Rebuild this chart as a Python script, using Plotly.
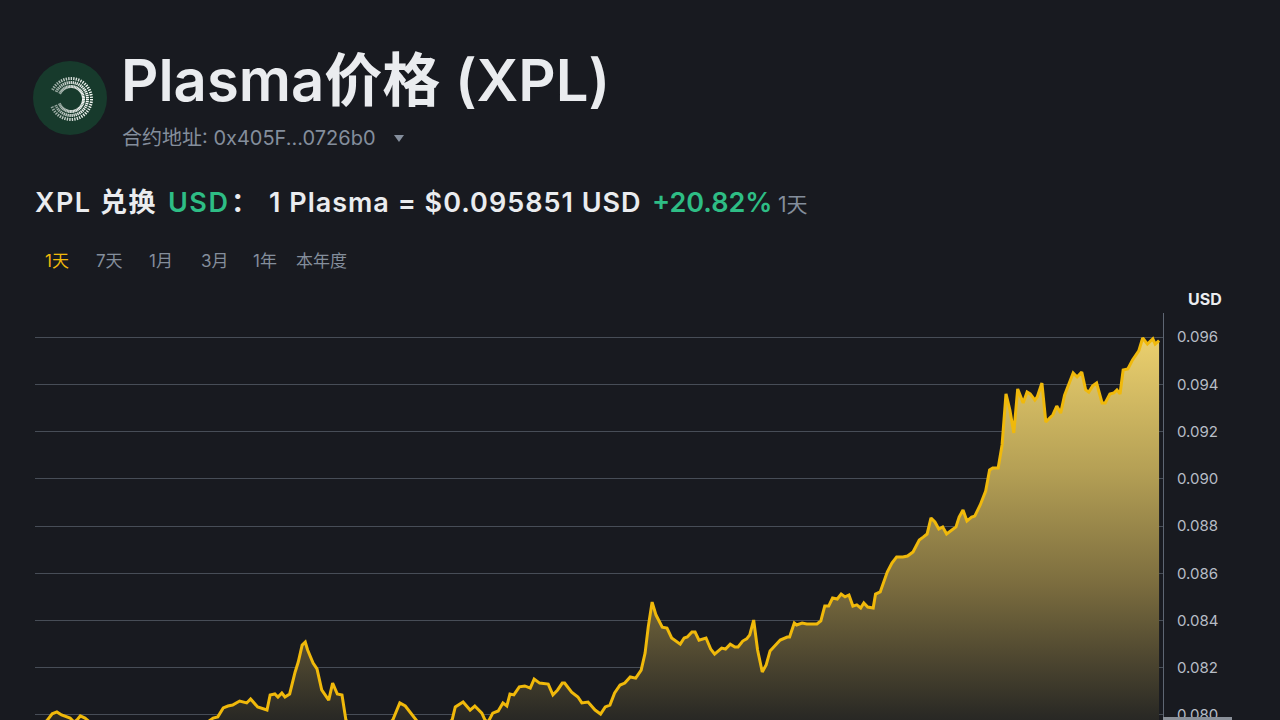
import math
import plotly.graph_objects as go

# minutes since the start of the 1-day window, and XPL price in USD
minutes = [
    0, 9, 15, 22, 28, 34, 45, 50, 54, 58, 64, 70, 83, 99, 115, 132, 147, 164, 179, 196,
    211, 221, 228, 234, 241, 247, 253, 262, 271, 276, 285, 297, 301, 307, 311, 316, 320, 326, 333, 337,
    342, 346, 349, 356, 361, 367, 376, 381, 387, 393, 398, 406, 416, 429, 442, 452, 458, 467, 474, 480,
    484, 490, 499, 509, 518, 527, 534, 538, 548, 557, 563, 572, 576, 580, 586, 593, 599, 604, 608, 613,
    620, 627, 634, 639, 646, 657, 663, 669, 675, 678, 687, 695, 700, 708, 717, 724, 730, 736, 742, 749,
    755, 762, 769, 776, 781, 785, 790, 795, 803, 809, 815, 819, 826, 831, 835, 841, 845, 850, 859, 865,
    870, 879, 884, 890, 896, 900, 906, 911, 915, 920, 925, 931, 936, 941, 947, 954, 963, 966, 972, 975,
    982, 988, 1001, 1006, 1011, 1016, 1021, 1027, 1032, 1037, 1042, 1047, 1052, 1057, 1061, 1066, 1073, 1076, 1082, 1091,
    1097, 1103, 1111, 1117, 1124, 1132, 1137, 1142, 1147, 1152, 1157, 1162, 1167, 1174, 1179, 1183, 1188, 1193, 1199, 1203,
    1210, 1217, 1222, 1226, 1233, 1238, 1243, 1248, 1253, 1258, 1265, 1270, 1274, 1280, 1283, 1289, 1294, 1299, 1303, 1308,
    1313, 1318, 1324, 1329, 1334, 1340, 1345, 1349, 1354, 1359, 1366, 1370, 1376, 1381, 1385, 1389, 1393, 1399, 1405, 1413,
    1418, 1424, 1431, 1434, 1439,
]
price = [
    0.07955, 0.07965, 0.07975, 0.08005, 0.08013, 0.08000, 0.07987, 0.07970, 0.07980, 0.07996, 0.07987, 0.07970, 0.07950, 0.07930, 0.07940, 0.07920, 0.07940, 0.07950, 0.07930, 0.07950,
    0.07960, 0.07970, 0.07987, 0.07992, 0.08030, 0.08038, 0.08042, 0.08059, 0.08051, 0.08068, 0.08034, 0.08021, 0.08085, 0.08089, 0.08076, 0.08093, 0.08076, 0.08089, 0.08182, 0.08224,
    0.08296, 0.08309, 0.08275, 0.08220, 0.08195, 0.08106, 0.08063, 0.08135, 0.08089, 0.08085, 0.07979, 0.07950, 0.07930, 0.07920, 0.07940, 0.07960, 0.07979, 0.08051, 0.08038, 0.08013,
    0.08000, 0.07970, 0.07950, 0.07940, 0.07950, 0.07960, 0.07979, 0.08034, 0.08055, 0.08021, 0.08038, 0.08008, 0.07979, 0.07970, 0.08008, 0.08017, 0.08051, 0.08038, 0.08089, 0.08085,
    0.08119, 0.08123, 0.08114, 0.08152, 0.08135, 0.08131, 0.08085, 0.08106, 0.08135, 0.08135, 0.08097, 0.08076, 0.08051, 0.08055, 0.08021, 0.08004, 0.08034, 0.08042, 0.08093, 0.08127,
    0.08135, 0.08161, 0.08156, 0.08190, 0.08262, 0.08372, 0.08478, 0.08423, 0.08372, 0.08368, 0.08326, 0.08317, 0.08300, 0.08326, 0.08330, 0.08351, 0.08351, 0.08317, 0.08326, 0.08279,
    0.08258, 0.08283, 0.08279, 0.08300, 0.08288, 0.08288, 0.08313, 0.08322, 0.08339, 0.08402, 0.08275, 0.08182, 0.08212, 0.08271, 0.08292, 0.08317, 0.08330, 0.08330, 0.08389, 0.08381,
    0.08389, 0.08385, 0.08385, 0.08398, 0.08461, 0.08461, 0.08495, 0.08491, 0.08512, 0.08500, 0.08508, 0.08461, 0.08466, 0.08453, 0.08474, 0.08457, 0.08453, 0.08512, 0.08521, 0.08605,
    0.08643, 0.08669, 0.08669, 0.08673, 0.08690, 0.08741, 0.08753, 0.08766, 0.08834, 0.08817, 0.08787, 0.08796, 0.08766, 0.08783, 0.08796, 0.08838, 0.08868, 0.08821, 0.08838, 0.08842,
    0.08889, 0.08948, 0.09037, 0.09045, 0.09045, 0.09143, 0.09359, 0.09291, 0.09194, 0.09380, 0.09321, 0.09367, 0.09359, 0.09333, 0.09346, 0.09405, 0.09240, 0.09257, 0.09270, 0.09308,
    0.09278, 0.09354, 0.09409, 0.09448, 0.09431, 0.09452, 0.09376, 0.09367, 0.09393, 0.09405, 0.09321, 0.09321, 0.09359, 0.09363, 0.09376, 0.09359, 0.09460, 0.09465, 0.09503, 0.09541,
    0.09596, 0.09570, 0.09592, 0.09570, 0.09585,
]
y_ticks = [0.080, 0.082, 0.084, 0.086, 0.088, 0.090, 0.092, 0.094, 0.096]
tabs = ["1天", "7天", "1月", "3月", "1年", "本年度"]

BG = "#181a20"
FONT = "Inter, 'Noto Sans CJK SC', sans-serif"
GREEN = "#2ebd85"
GREY = "#848e9c"

# plot area in pixels: x 35..1163, y 313..720
L, R, T, B = 35, 1163, 313, 720


def px(x):
    return (x - L) / (R - L)


def py(y):
    return (B - y) / (B - T)


def spaced(t, ls):
    return f"<span style='letter-spacing:{ls}px'>{t}</span>"


fig = go.Figure()
fig.add_trace(
    go.Scatter(
        x=minutes,
        y=price,
        mode="lines",
        line=dict(color="#f0b90b", width=3),
        fill="tozeroy",
        fillgradient=dict(
            type="vertical",
            start=0.0790,
            stop=0.0960,
            colorscale=[
                [0, "#1f2023"],
                [0.06, "#2b2a25"],
                [0.39, "#7d6e3f"],
                [0.67, "#b5a055"],
                [1, "#ebd06e"],
            ],
        ),
        hovertemplate="%{y:.6f} USD<extra></extra>",
        showlegend=False,
    )
)

# header texts (x in page pixels, y centre in page pixels)
header = [
    (119, 80, "Plasma价格 (XPL)", 58, "#eaecef", 600),
    (120, 138, "合约地址: 0x405F...0726b0", 20, GREY, 400),
    (33, 202, spaced("XPL 兑换", 1.5), 27, "#eaecef", 600),
    (166, 202, spaced("USD", 1.5), 27, GREEN, 600),
    (229, 202, "：", 27, "#eaecef", 600),
    (267, 202, spaced("1 Plasma = $0.095851 USD", 1), 27, "#eaecef", 600),
    (650, 202, "+20.82%", 27, GREEN, 600),
    (776, 204, "1天", 21, GREY, 400),
]
annotations = [
    dict(x=px(x), y=py(y), text=t, font=dict(size=s, color=c, weight=w))
    for x, y, t, s, c, w in header
]
annotations.append(
    dict(x=px(1205), y=py(299), text="USD", xanchor="center",
         font=dict(size=16, color="#eaecef", weight=700))
)
for i, (label, xpos) in enumerate(zip(tabs, [43, 94, 147, 199, 251, 294])):
    annotations.append(
        dict(x=px(xpos), y=py(261), text=label,
             font=dict(size=17, color="#f0b90b" if i == 0 else GREY))
    )
for a in annotations:
    a.setdefault("xanchor", "left")
    a.update(xref="paper", yref="paper", yanchor="middle", showarrow=False)

shapes = [
    # logo disc
    dict(type="circle", xref="paper", yref="paper",
         x0=px(33), x1=px(107), y0=py(135), y1=py(61),
         fillcolor="#173a2c", line=dict(width=0), layer="above"),
    # contract dropdown caret
    dict(type="path", xref="paper", yref="paper",
         path=f"M {px(394)} {py(135)} L {px(404)} {py(135)} L {px(399)} {py(142)} Z",
         fillcolor=GREY, line=dict(width=0)),
    # bottom axis label stub
    dict(type="rect", xref="paper", yref="paper",
         x0=px(1163), x1=px(1232), y0=py(720), y1=py(717),
         fillcolor="#8a9099", line=dict(width=0)),
]
# logo: radial stripes forming a "C" open to the left
cx, cy = 71, 99
for deg in range(-156, 157, 7):
    a = math.radians(deg)
    op = 0.45 + 0.55 * math.cos(a / 2)
    shapes.append(
        dict(type="line", xref="paper", yref="paper",
             x0=px(cx + 11 * math.cos(a)), y0=py(cy - 11 * math.sin(a)),
             x1=px(cx + 23 * math.cos(a)), y1=py(cy - 23 * math.sin(a)),
             line=dict(color=f"rgba(245,248,245,{op:.2f})", width=1.4, dash="3px,1px"),
             layer="above")
    )

fig.update_layout(
    width=1280,
    height=720,
    paper_bgcolor=BG,
    plot_bgcolor=BG,
    font=dict(family=FONT, color="#eaecef"),
    margin=dict(l=L, r=1280 - R, t=T, b=0),
    annotations=annotations,
    shapes=shapes,
    hovermode="x",
)
fig.update_xaxes(visible=False, range=[0, 1444], fixedrange=True, automargin=False)
fig.update_yaxes(
    side="right",
    range=[0.079788, 0.097016],
    tickvals=y_ticks,
    tickformat=".3f",
    showgrid=True,
    gridcolor="#474d57",
    gridwidth=1.2,
    zeroline=False,
    showline=True,
    linecolor="#5e6673",
    linewidth=1,
    ticks="",
    ticklabelstandoff=10,
    ticklabeloverflow="allow",
    automargin=False,
    tickfont=dict(size=15, color="#b7bdc6"),
    fixedrange=True,
)

fig.write_html(
    "out.html",
    config={"displayModeBar": False},
    post_script="document.body.style.margin='0';document.body.style.background='#181a20';",
)
